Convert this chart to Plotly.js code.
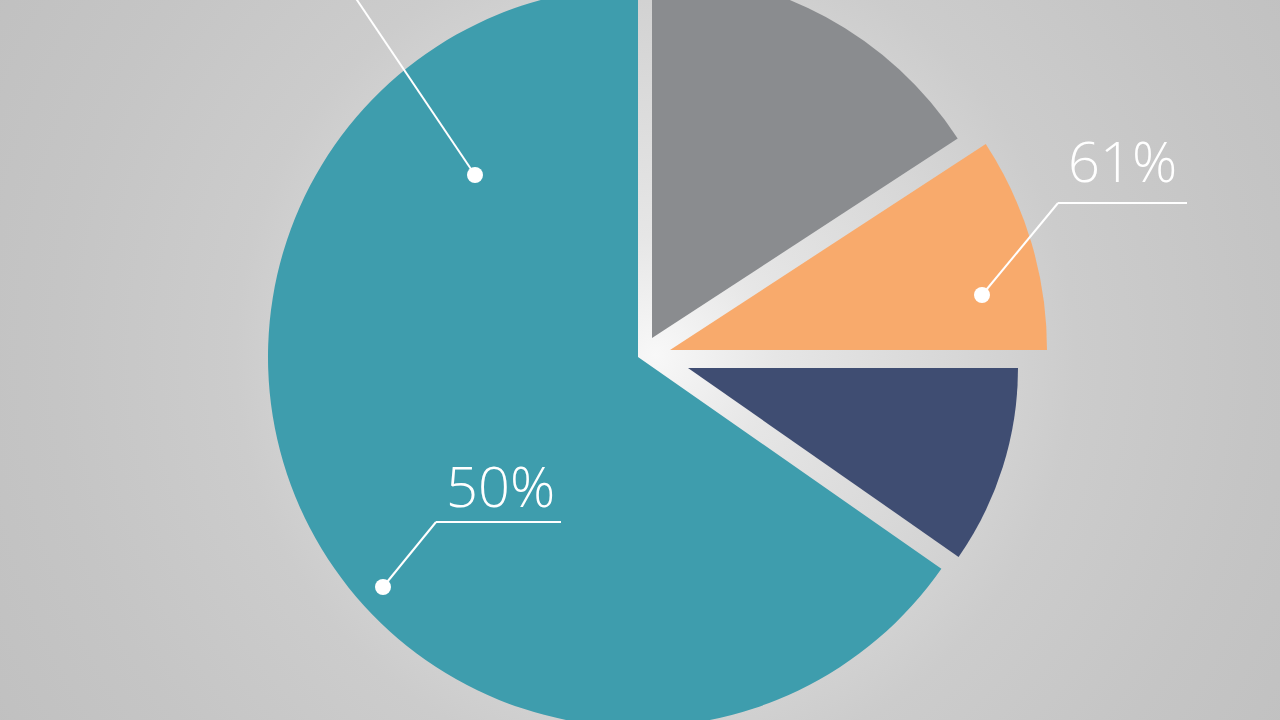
<!DOCTYPE html>
<html>
<head>
<meta charset="utf-8">
<script src="https://cdn.plot.ly/plotly-3.0.1.min.js"></script>
<style>
  html, body { margin: 0; padding: 0; width: 1280px; height: 720px; overflow: hidden; }
  body {
    background: radial-gradient(circle at 655px 355px, #f8f8f8 0px, #e6e6e6 120px, #d7d7d7 300px, #cccccc 420px, #c5c5c5 600px, #bfbfbf 800px);
  }
  #chart { position: absolute; left: 0; top: -40px; width: 1280px; height: 800px; }
</style>
</head>
<body>
<div id="chart"></div>
<script>
// slice values, clockwise from 12 o'clock
var sliceNames = ['Gray', 'Orange', 'Navy', 'Teal'];
var sliceValues = [15.8, 9.2, 9.7, 65.3];
var calloutTexts = ['61%', '50%'];

var sliceColors = ['#8a8c8f', '#f8aa6c', '#3f4d72', '#3e9dad'];
// each wedge sits on its own centre/radius (px) so the gaps look like the picture
var sliceCx = [652, 670, 688, 638];
var sliceCy = [338, 350, 368, 357];
var sliceR = [365, 377, 330, 370];

var W = 1280, H = 800, TOP = -40;
function fx(px) { return px / W; }
function fy(py) { return 1 - (py - TOP) / H; }

var total = sliceValues.reduce(function (a, b) { return a + b; }, 0);
var data = [];
var start = 0;
for (var i = 0; i < sliceValues.length; i++) {
  data.push({
    type: 'pie',
    labels: [sliceNames[i], 'rest'],
    values: [sliceValues[i], total - sliceValues[i]],
    sort: false,
    direction: 'clockwise',
    rotation: start / total * 360,
    marker: { colors: [sliceColors[i], 'rgba(0,0,0,0)'], line: { width: 0 } },
    textinfo: 'none',
    hoverinfo: 'skip',
    showlegend: false,
    domain: {
      x: [fx(sliceCx[i] - sliceR[i]), fx(sliceCx[i] + sliceR[i])],
      y: [fy(sliceCy[i] + sliceR[i]), fy(sliceCy[i] - sliceR[i])]
    }
  });
  start += sliceValues[i];
}

var lineStyle = { color: '#ffffff', width: 2 };
function seg(x0, y0, x1, y1) {
  return { type: 'line', xref: 'paper', yref: 'paper', x0: fx(x0), y0: fy(y0), x1: fx(x1), y1: fy(y1), line: lineStyle };
}
function dot(x, y) {
  return {
    type: 'circle', xref: 'paper', yref: 'paper', xsizemode: 'pixel', ysizemode: 'pixel',
    xanchor: fx(x), yanchor: fy(y), x0: -8, x1: 8, y0: -8, y1: 8,
    fillcolor: '#ffffff', line: { width: 0 }
  };
}

var shapes = [
  seg(330, -40, 475, 175), dot(475, 175),
  seg(982, 295, 1058, 203), seg(1058, 203, 1187, 203), dot(982, 295),
  seg(383, 587, 436, 522), seg(436, 522, 561, 522), dot(383, 587)
];

var labelFont = { family: 'Open Sans, Lato, sans-serif', size: 56, color: '#ffffff', weight: 300 };
var annotations = [
  { text: calloutTexts[0], x: fx(1122), y: fy(160), xref: 'paper', yref: 'paper', showarrow: false, xanchor: 'center', yanchor: 'middle', font: labelFont },
  { text: calloutTexts[1], x: fx(500), y: fy(485), xref: 'paper', yref: 'paper', showarrow: false, xanchor: 'center', yanchor: 'middle', font: labelFont }
];

var layout = {
  width: W,
  height: H,
  margin: { l: 0, r: 0, t: 0, b: 0 },
  paper_bgcolor: 'rgba(0,0,0,0)',
  plot_bgcolor: 'rgba(0,0,0,0)',
  showlegend: false,
  shapes: shapes,
  annotations: annotations
};

Plotly.newPlot('chart', data, layout, { displayModeBar: false, staticPlot: true });
</script>
</body>
</html>
